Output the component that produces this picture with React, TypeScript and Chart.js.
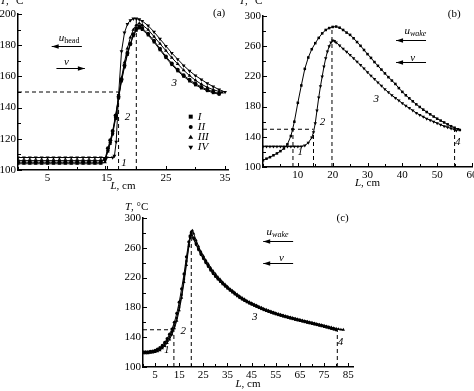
import React, { useEffect, useRef } from "react";
import { Chart, registerables } from "chart.js";
Chart.register(...registerables);

type P = [number, number];
const FONT = "'Liberation Serif', 'Times New Roman', serif";

// ---------------- Panel (a): L (cm), T (°C) ----------------
const A_I: P[] = [[0,106],[1,106],[2,106],[3,106],[4,106],[5,106],[6,106],[7,106],[8,106],[9,106],[10,106],[11,106],[12,106],[13,106],[14,106],[14.7,106.5],[15.2,112],[15.6,117],[16,123],[16.5,133],[17,146],[17.5,157],[18,166],[18.5,174],[19,180.5],[19.5,186],[20,189.5],[20.5,191],[21,190],[22,186.5],[23,182],[24,177],[25,172],[26,167.5],[27,163.5],[28,160],[29,157],[30,154.5],[31,152.5],[32,150.8],[33,149.5],[34,148.5]];
const A_II: P[] = [[0,105],[1,105],[2,105],[3,105],[4,105],[5,105],[6,105],[7,105],[8,105],[9,105],[10,105],[11,105],[12,105],[13,105],[14,105],[14.7,107],[15.2,114],[15.6,119],[16,125],[16.5,135],[17,147],[17.5,158],[18,167],[18.5,175],[19,181],[19.5,187],[20,190.5],[20.5,192],[21,191],[22,187.3],[23,182.8],[24,177.8],[25,172.8],[26,168.3],[27,164.3],[28,160.8],[29,157.8],[30,155.3],[31,153.2],[32,151.5],[33,150.2],[34,149]];
const A_III: P[] = [[0,104],[1,104],[2,104],[3,104],[4,104],[5,104],[6,104],[7,104],[8,104],[9,104],[10,104],[11,104],[12,104],[13,104],[14,104],[14.7,105],[15.2,113],[15.6,118],[16,124],[16.5,134],[17,146.5],[17.5,159],[18,169],[18.5,178],[19,185],[19.5,190],[20,193],[20.5,194],[21,193],[22,190],[23,185.5],[24,181],[25,176.5],[26,172],[27,168],[28,164],[29,160.5],[30,157.5],[31,155],[32,153],[33,151.5],[34,150.3],[34.5,149.7]];
const A_IV: P[] = [[0,108],[1,108],[2,108],[3,108],[4,108],[5,108],[6,108],[7,108],[8,108],[9,108],[10,108],[11,108],[12,108],[13,108],[14,108],[15,108],[16,108],[16.3,109],[16.6,118],[17,148],[17.5,176],[18,188],[18.5,193.5],[19,196],[19.5,197],[20,197],[20.5,196.5],[21,195.5],[22,192.5],[23,188.5],[24,184],[25,179.5],[26,175],[27,171],[28,167],[29,163.5],[30,160.5],[31,158],[32,155.5],[33,153.5],[34,151.5],[35,150]];
const A_GUIDES: P[][] = [[[0,150],[17,150]],[[17,100],[17,150]],[[20,100],[20,197]],[[14.8,100],[14.8,106]]];
const A_LEGEND_LABELS = ["I", "II", "III", "IV"];

// ---------------- Panel (b) ----------------
const B_SQ: P[] = [[0,109],[1,111],[2,113],[3,115.5],[4,118],[5,121],[6,124.5],[7,130],[8,141],[8.5,150],[9,160],[10,185],[11,208],[12,230],[13,245],[14,256],[15,264],[16,271],[17,277],[18,281.5],[19,284],[20,285.5],[21,286],[22,284.5],[23,281.5],[24,278],[25,275],[26,270.5],[27,265.5],[28,260.5],[29,255],[30,249.5],[31,244.5],[32,239],[33,234],[34,229],[35,224],[36,219],[37,214.5],[38,210],[39,204.5],[40,199.5],[41,195],[42,191],[43,187],[44,183],[45,179.5],[46,176],[47,172.8],[48,169.8],[49,166.8],[50,164],[51,161.5],[52,159],[53,156.5],[54,154],[55,152],[56,150],[56.5,149]];
const B_TRI: P[] = [[0,127],[1,127],[2,127],[3,127],[4,127],[5,127],[6,127],[7,127],[8,127],[9,127],[10,127],[11,127],[12,128.5],[13,132],[14,139],[14.5,146],[15,158],[15.5,175],[16,192],[16.5,207],[17,220],[17.5,233],[18,244],[18.5,253],[19,260],[19.5,265],[20,267.5],[20.5,267],[21,265],[22,261],[23,256.5],[24,252.5],[25,248.5],[26,244],[27,239.5],[28,235],[29,230.5],[30,225.5],[31,221],[32,216.5],[33,212],[34,207.5],[35,203],[36,199],[37,195],[38,191.5],[39,188],[40,184.5],[41,181],[42,178],[43,175],[44,171.5],[45,169],[46,166.5],[47,164],[48,162],[49,160],[50,158],[51,156],[52,154],[53,152.5],[54,151],[55,149.5],[55.5,148.5]];
const B_GUIDES: P[][] = [[[0,150],[14.5,150]],[[8.6,100],[8.6,150]],[[14.5,100],[14.5,146]],[[19.8,100],[19.8,286]],[[55,100],[55,148]]];

// ---------------- Panel (c) ----------------
const C_CIRC: P[] = [[0,120.5],[1,120.5],[2,120.5],[3,121],[4,121.5],[5,122.5],[6,124],[7,126],[8,129],[9,133],[10,138],[11,144],[12,151],[13,160],[14,172],[15,187],[16,205],[17,225],[18,248],[19,268],[19.5,276],[20,280],[21,273],[22,265.5],[23,258.5],[24,252],[25,246.5],[26,241],[27,236],[28,231],[29,226.5],[30,222.5],[31,219],[32,215.7],[33,212.5],[34,209.5],[35,206.7],[36,204],[37,201.5],[38,199],[39,196.5],[40,194],[41,192],[42,190],[43,188.2],[44,186.5],[45,185],[46,183.5],[47,182],[48,180.5],[49,179],[50,177.5],[51,176.3],[52,175.1],[53,174],[54,172.9],[55,171.8],[56,170.8],[57,169.8],[58,168.9],[59,168],[60,167.1],[61,166.2],[62,165.4],[63,164.5],[64,163.7],[65,162.9],[66,162.1],[67,161.3],[68,160.5],[69,159.7],[70,159],[71,158.2],[72,157.4],[73,156.6],[74,155.8],[75,155],[76,154.1],[77,153.2],[78,152.3],[79,151.4],[80,150.5]];
const C_SQ: P[] = [[0,119.5],[1,119.5],[2,119.5],[3,120],[4,120.5],[5,121.5],[6,122.5],[7,124.5],[8,127],[9,130.5],[10,135],[11,140.5],[12,147],[13,155.5],[14,166],[15,180],[16,197],[17,218],[18,242],[19,264],[19.5,273],[20,277],[21,271.5],[22,264],[23,257],[24,250.5],[25,245],[26,239.5],[27,234.5],[28,229.5],[29,225],[30,221],[31,217.5],[32,214.2],[33,211],[34,208],[35,205.2],[36,202.5],[37,200],[38,197.5],[39,195],[40,192.6],[41,190.6],[42,188.7],[43,186.9],[44,185.2],[45,183.7],[46,182.2],[47,180.7],[48,179.2],[49,177.8],[50,176.4],[51,175.2],[52,174],[53,172.9],[54,171.8],[55,170.7],[56,169.7],[57,168.7],[58,167.8],[59,166.9],[60,166],[61,165.1],[62,164.3],[63,163.4],[64,162.6],[65,161.8],[66,161],[67,160.2],[68,159.4],[69,158.6],[70,157.9],[71,157.1],[72,156.3],[73,155.5],[74,154.7],[75,153.9],[76,153],[77,152.1],[78,151.2],[79,150.3],[80,149.4]];
const C_TRI: P[] = [[0,118.5],[1,118.5],[2,118.5],[3,119],[4,119.5],[5,120],[6,121],[7,122.5],[8,125],[9,128],[10,132],[11,137],[12,143.5],[13,152],[14,162],[15,176],[16,193],[17,214],[18,237],[19,262],[19.5,275],[20,282],[20.5,283],[21,279],[22,270],[23,262],[24,255],[25,249],[26,243.5],[27,238.5],[28,233.5],[29,229],[30,225],[31,221],[32,217.5],[33,214],[34,211],[35,208],[36,205],[37,202.5],[38,200],[39,197.5],[40,195],[41,193],[42,191],[43,189],[44,187.3],[45,185.7],[46,184.1],[47,182.6],[48,181.1],[49,179.6],[50,178.2],[51,176.9],[52,175.7],[53,174.5],[54,173.4],[55,172.3],[56,171.3],[57,170.3],[58,169.3],[59,168.4],[60,167.5],[61,166.6],[62,165.8],[63,164.9],[64,164.1],[65,163.3],[66,162.5],[67,161.7],[68,160.9],[69,160.1],[70,159.4],[71,158.6],[72,157.8],[73,157],[74,156.2],[75,155.4],[76,154.6],[77,153.8],[78,153],[79,152.2],[80,151.4],[81,150.8],[82,150.3],[83,150]];
const C_GUIDES: P[][] = [[[0,150],[12.8,150]],[[12.8,100],[12.8,150]],[[20,100],[20,282]],[[80.5,100],[80.5,150]]];

// ---------------- drawing helpers ----------------
type Part = { s: string; it?: boolean; size?: number; dy?: number };
type Txt = { L: number; T: number; parts: Part[]; align?: "left" | "center" };
type Arrow = { L1: number; L2: number; T: number };
type LegendRow = { L: number; T: number; style: string; label: string };

interface PanelDef {
  id: string;
  box: { left: number; top: number; w: number; h: number };
  pad: { left: number; right: number; top: number; bottom: number };
  yW: number;
  xH: number;
  x: { min: number; max: number; step: number; show: (v: number) => boolean };
  y: { min: number; max: number; step: number; show: (v: number) => boolean };
  series: { pts: P[]; style: string; rot: number; r: number }[];
  guides: P[][];
  texts: Txt[];
  arrows: Arrow[];
  legend: LegendRow[];
  yTitle: { dx: number; dy: number };
  xTitleDy: number;
}

function drawRich(ctx: CanvasRenderingContext2D, parts: Part[], x: number, y: number, align: string) {
  const fonts = parts.map((p) => `${p.it ? "italic " : ""}${p.size || 11}px ${FONT}`);
  const widths = parts.map((p, i) => {
    ctx.font = fonts[i];
    return ctx.measureText(p.s).width;
  });
  const total = widths.reduce((a, b) => a + b, 0);
  let cx = align === "center" ? x - total / 2 : x;
  ctx.textBaseline = "middle";
  ctx.textAlign = "left";
  parts.forEach((p, i) => {
    ctx.font = fonts[i];
    ctx.fillText(p.s, cx, y + (p.dy || 0));
    cx += widths[i];
  });
}

function drawMarker(ctx: CanvasRenderingContext2D, style: string, x: number, y: number, r: number) {
  ctx.beginPath();
  if (style === "rect") ctx.rect(x - r, y - r, 2 * r, 2 * r);
  else if (style === "circle") ctx.arc(x, y, r, 0, Math.PI * 2);
  else if (style === "tri") {
    ctx.moveTo(x, y - r * 1.3);
    ctx.lineTo(x + r * 1.2, y + r * 0.8);
    ctx.lineTo(x - r * 1.2, y + r * 0.8);
    ctx.closePath();
  } else {
    ctx.moveTo(x, y + r * 1.3);
    ctx.lineTo(x + r * 1.2, y - r * 0.8);
    ctx.lineTo(x - r * 1.2, y - r * 0.8);
    ctx.closePath();
  }
  ctx.fill();
}

function makePlugin(def: PanelDef) {
  return {
    id: "annot_" + def.id,
    afterDraw(chart: any) {
      const ctx: CanvasRenderingContext2D = chart.ctx;
      const ca = chart.chartArea;
      const xs = chart.scales.x;
      const ys = chart.scales.y;
      const X = (v: number) => xs.getPixelForValue(v);
      const Y = (v: number) => ys.getPixelForValue(v);
      ctx.save();
      ctx.strokeStyle = "#000";
      ctx.fillStyle = "#000";
      ctx.lineWidth = 1;
      // inward tick marks
      ctx.beginPath();
      xs.ticks.forEach((t: any) => {
        const px = Math.round(X(t.value)) + 0.5;
        const len = t.label ? 4 : 3;
        ctx.moveTo(px, ca.bottom);
        ctx.lineTo(px, ca.bottom - len);
      });
      ys.ticks.forEach((t: any) => {
        const py = Math.round(Y(t.value)) + 0.5;
        const len = t.label ? 4 : 3;
        ctx.moveTo(ca.left, py);
        ctx.lineTo(ca.left + len, py);
      });
      ctx.stroke();
      // texts
      def.texts.forEach((t) => drawRich(ctx, t.parts, X(t.L), Y(t.T), t.align || "center"));
      // arrows
      def.arrows.forEach((a) => {
        const x1 = X(a.L1), x2 = X(a.L2), y = Math.round(Y(a.T)) + 0.5;
        ctx.beginPath();
        ctx.moveTo(x1, y);
        ctx.lineTo(x2, y);
        ctx.stroke();
        const d = Math.sign(x2 - x1);
        ctx.beginPath();
        ctx.moveTo(x2, y);
        ctx.lineTo(x2 - d * 7, y - 2.2);
        ctx.lineTo(x2 - d * 7, y + 2.2);
        ctx.closePath();
        ctx.fill();
      });
      // legend
      def.legend.forEach((l) => {
        drawMarker(ctx, l.style, X(l.L), Y(l.T), 2);
        drawRich(ctx, [{ s: l.label, it: true }], X(l.L) + 7, Y(l.T), "left");
      });
      // axis titles
      drawRich(ctx, [{ s: "T", it: true }, { s: ", °C" }], ca.left + def.yTitle.dx, ca.top + def.yTitle.dy, "left");
      drawRich(ctx, [{ s: "L", it: true }, { s: ", cm" }], (ca.left + ca.right) / 2, ca.bottom + def.xTitleDy, "center");
      ctx.restore();
    },
  };
}

function buildConfig(def: PanelDef): any {
  const datasets: any[] = [];
  def.guides.forEach((g) =>
    datasets.push({
      data: g.map(([x, y]) => ({ x, y })),
      showLine: true,
      borderColor: "#000",
      borderWidth: 1,
      borderDash: [4, 3],
      pointRadius: 0,
      pointHoverRadius: 0,
    })
  );
  def.series.forEach((s) =>
    datasets.push({
      data: s.pts.map(([x, y]) => ({ x, y })),
      showLine: true,
      borderColor: "#000",
      borderWidth: 1,
      backgroundColor: "#000",
      pointStyle: s.style,
      pointRotation: s.rot,
      pointRadius: s.r,
      pointHoverRadius: s.r,
      pointBorderWidth: 0,
      pointBackgroundColor: "#000",
      tension: 0,
    })
  );
  const axisCommon = {
    type: "linear",
    border: { display: true, color: "#000", width: 1.5 },
    grid: { display: false, drawTicks: false },
  };
  return {
    type: "scatter",
    data: { datasets },
    options: {
      animation: false,
      responsive: false,
      maintainAspectRatio: false,
      events: [],
      layout: { padding: def.pad },
      plugins: { legend: { display: false }, tooltip: { enabled: false } },
      scales: {
        x: {
          ...axisCommon,
          position: "bottom",
          min: def.x.min,
          max: def.x.max,
          afterFit: (s: any) => {
            s.height = def.xH;
            s.paddingLeft = 0;
            s.paddingRight = 0;
          },
          ticks: {
            stepSize: def.x.step,
            autoSkip: false,
            includeBounds: false,
            maxRotation: 0,
            padding: 2,
            color: "#000",
            font: { family: FONT, size: 11 },
            callback: (v: number) => (def.x.show(v) ? String(v) : ""),
          },
        },
        y: {
          ...axisCommon,
          position: "left",
          min: def.y.min,
          max: def.y.max,
          afterFit: (s: any) => {
            s.width = def.yW;
            s.paddingTop = 0;
            s.paddingBottom = 0;
          },
          ticks: {
            stepSize: def.y.step,
            autoSkip: false,
            includeBounds: false,
            padding: 2,
            color: "#000",
            font: { family: FONT, size: 11 },
            callback: (v: number) => (def.y.show(v) ? String(v) : ""),
          },
        },
      },
    },
    plugins: [makePlugin(def)],
  };
}

const num = (s: string): Part[] => [{ s, it: true }];

const PANELS: PanelDef[] = [
  {
    id: "a",
    box: { left: 0, top: 0, w: 237, h: 191 },
    pad: { left: 0, right: 9, top: 14, bottom: 0 },
    yW: 18,
    xH: 21,
    x: { min: 0, max: 35.5, step: 5, show: (v) => v % 10 === 5 },
    y: { min: 100, max: 200, step: 10, show: (v) => v % 20 === 0 },
    series: [
      { pts: A_I, style: "rect", rot: 0, r: 2 },
      { pts: A_II, style: "circle", rot: 0, r: 2 },
      { pts: A_III, style: "triangle", rot: 0, r: 2.2 },
      { pts: A_IV, style: "triangle", rot: 180, r: 2.2 },
    ],
    guides: A_GUIDES,
    texts: [
      { L: 34, T: 200.4, parts: [{ s: "(a)" }] },
      { L: 6.9, T: 184.8, parts: [{ s: "u", it: true }, { s: "head", size: 8, dy: 3 }], align: "left" },
      { L: 8.2, T: 169, parts: [{ s: "v", it: true }] },
      { L: 17.9, T: 104.3, parts: num("1") },
      { L: 18.5, T: 134.2, parts: num("2") },
      { L: 26.4, T: 155.6, parts: num("3") },
    ],
    arrows: [
      { L1: 10.8, L2: 5.7, T: 179.5 },
      { L1: 6.5, L2: 11.3, T: 165.6 },
    ],
    legend: [
      { L: 29.2, T: 134.2, style: "rect", label: A_LEGEND_LABELS[0] },
      { L: 29.2, T: 127.6, style: "circle", label: A_LEGEND_LABELS[1] },
      { L: 29.2, T: 121, style: "tri", label: A_LEGEND_LABELS[2] },
      { L: 29.2, T: 114.5, style: "triDown", label: A_LEGEND_LABELS[3] },
    ],
    yTitle: { dx: -18, dy: -13 },
    xTitleDy: 16,
  },
  {
    id: "b",
    box: { left: 237, top: 0, w: 237, h: 191 },
    pad: { left: 0, right: 1, top: 16, bottom: 0 },
    yW: 26,
    xH: 24,
    x: { min: 0, max: 60, step: 5, show: (v) => v > 0 && v % 10 === 0 },
    y: { min: 100, max: 300, step: 20, show: (v) => (v - 100) % 40 === 0 },
    series: [
      { pts: B_SQ, style: "rect", rot: 0, r: 1.8 },
      { pts: B_TRI, style: "triangle", rot: 180, r: 2 },
    ],
    guides: B_GUIDES,
    texts: [
      { L: 54.9, T: 302.6, parts: [{ s: "(b)" }] },
      { L: 40.6, T: 280.5, parts: [{ s: "u", it: true }, { s: "wake", it: true, size: 8, dy: 3 }], align: "left" },
      { L: 43, T: 244.8, parts: [{ s: "v", it: true }] },
      { L: 10.7, T: 120.3, parts: num("1") },
      { L: 17.1, T: 160, parts: num("2") },
      { L: 32.5, T: 189.7, parts: num("3") },
      { L: 55.9, T: 132.7, parts: num("4") },
    ],
    arrows: [
      { L1: 46.8, L2: 38.2, T: 268.2 },
      { L1: 46.8, L2: 38.2, T: 238.7 },
    ],
    legend: [],
    yTitle: { dx: -24, dy: -15 },
    xTitleDy: 16,
  },
  {
    id: "c",
    box: { left: 100, top: 190, w: 274, h: 201 },
    pad: { left: 15, right: 21, top: 28, bottom: 0 },
    yW: 28,
    xH: 24,
    x: { min: 0, max: 87, step: 5, show: (v) => v % 10 === 5 },
    y: { min: 100, max: 300, step: 20, show: (v) => (v - 100) % 40 === 0 },
    series: [
      { pts: C_CIRC, style: "circle", rot: 0, r: 1.6 },
      { pts: C_SQ, style: "rect", rot: 0, r: 1.5 },
      { pts: C_TRI, style: "triangle", rot: 0, r: 1.9 },
    ],
    guides: C_GUIDES,
    texts: [
      { L: 82.7, T: 299.6, parts: [{ s: "(c)" }] },
      { L: 51.2, T: 281.6, parts: [{ s: "u", it: true }, { s: "wake", it: true, size: 8, dy: 3 }], align: "left" },
      { L: 57.4, T: 245.9, parts: [{ s: "v", it: true }] },
      { L: 9.8, T: 122.8, parts: num("1") },
      { L: 16.7, T: 148.7, parts: num("2") },
      { L: 46.3, T: 167.5, parts: num("3") },
      { L: 81.8, T: 133, parts: num("4") },
    ],
    arrows: [
      { L1: 62.2, L2: 49.8, T: 269.5 },
      { L1: 62.2, L2: 49.8, T: 239.2 },
    ],
    legend: [],
    yTitle: { dx: -18, dy: -11 },
    xTitleDy: 17,
  },
];

function PanelChart({ def }: { def: PanelDef }) {
  const ref = useRef<HTMLCanvasElement>(null);
  useEffect(() => {
    const chart = new Chart(ref.current as HTMLCanvasElement, buildConfig(def));
    return () => chart.destroy();
  }, [def]);
  return (
    <canvas
      ref={ref}
      width={def.box.w}
      height={def.box.h}
      style={{ position: "absolute", left: def.box.left, top: def.box.top, width: def.box.w, height: def.box.h }}
    />
  );
}

export default function App() {
  return (
    <div style={{ position: "absolute", left: 0, top: 0, width: 474, height: 391, background: "#fff", overflow: "hidden" }}>
      {PANELS.map((p) => (
        <PanelChart key={p.id} def={p} />
      ))}
    </div>
  );
}
